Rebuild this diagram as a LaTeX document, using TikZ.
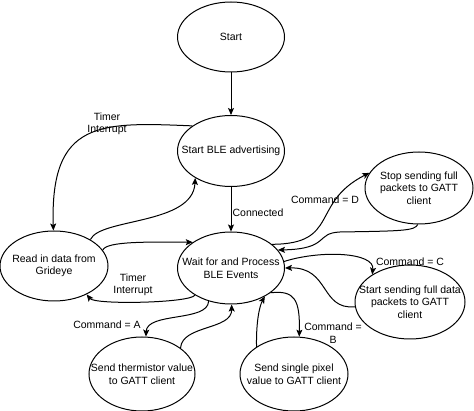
\documentclass[tikz,border=0pt]{standalone}
\usepackage{fontspec}
\setmainfont{Liberation Sans}
\usetikzlibrary{arrows.meta,shapes.geometric}
\begin{document}
\begin{tikzpicture}[x=1pt,y=-1pt,line width=1pt,
  txt/.style={align=center,inner sep=0pt,font=\fontsize{10.5}{12.5}\selectfont},
  state/.style={ellipse,draw,inner sep=0pt,minimum width=107pt,minimum height=71pt},
  edge/.style={-{Stealth[length=7pt,width=6pt,inset=1.5pt]}}]
\useasboundingbox (0,0) rectangle (474,411);
\node[state,minimum height=70pt,label={[txt]center:Start}] (start) at (231,37) {};
\node[state,label={[txt]center:Start BLE advertising}] (ble) at (231,151) {};
\node[state,minimum height=72pt,label={[txt]center:Wait for and Process\\BLE Events}] (wait) at (231,268) {};
\node[state,minimum width=108pt,minimum height=70pt,label={[txt]center:Read in data from\\Grideye}] (read) at (54,266) {};
\node[state,minimum width=108pt,minimum height=72pt,label={[txt]center:Stop sending full\\packets to GATT\\client}] (stop) at (419,188) {};
\node[state,minimum width=110pt,minimum height=74pt,label={[txt]center:Start sending full data\\packets to GATT\\client}] (full) at (410,302) {};
\node[state,minimum width=106pt,minimum height=74pt,label={[txt]center:Send thermistor value\\to GATT client}] (therm) at (142,374) {};
\node[state,minimum width=108pt,minimum height=74pt,label={[txt]center:Send single pixel\\value to GATT client}] (pixel) at (294,374) {};

\draw[edge] (start) -- (ble);
\draw[edge] (ble) -- (wait);
\node[txt] (lconn) at (258,213) {Connected};

\draw[edge] (ble.147) .. controls (100,122) and (50,120) .. (read.91);
\node[txt] (lt1) at (107,124) {Timer\\Interrupt};
\draw[edge] (read.36) .. controls (100,218) and (193,225) .. (ble.217);
\draw[edge] (read.18) .. controls (106,241) and (150,242) .. (wait.146);
\draw[edge] (wait.217) .. controls (190,303) and (95,305) .. (read.-41);
\node[txt] (lt2) at (133,285) {Timer\\Interrupt};

\draw[edge] (wait.30) .. controls (340,244) and (310,203) .. (stop.163);
\node[txt] (ld) at (325,200) {Command = D};
\draw[edge] (stop.-92) .. controls (415,231) and (400,231) .. (340,232) .. controls (315,233) and (330,249) .. (wait.21);

\draw[edge] (wait.7) .. controls (320,250) and (375,252) .. (full.144);
\node[txt] (lc) at (410,262) {Command = C};
\draw[edge] (full.185) .. controls (320,310) and (330,267) .. (wait.0);

\draw[edge] (wait.-32) .. controls (295,290) and (300,300) .. (pixel.82);
\node[txt] (lb) at (333,333) {Command =\\B};
\draw[edge] (pixel.144) .. controls (256,320) and (260,305) .. (wait.-40);

\draw[edge] (wait.236) .. controls (208,322) and (147,312) .. (therm.84);
\node[txt] (la) at (107,325) {Command = A};
\draw[edge] (therm.34) .. controls (182,325) and (232,330) .. (wait.-89);
\end{tikzpicture}
\end{document}
